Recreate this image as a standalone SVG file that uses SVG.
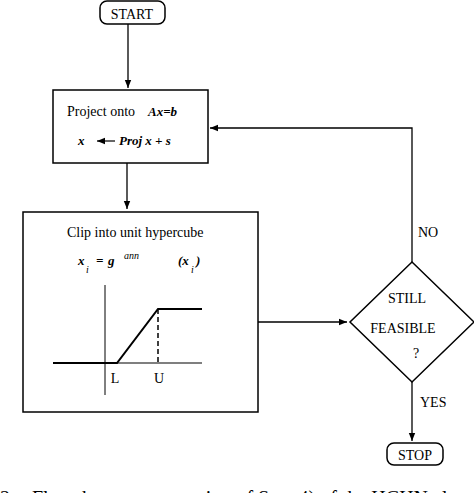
<svg xmlns="http://www.w3.org/2000/svg" width="474" height="493" viewBox="0 0 474 493">
<style>
  .ln{fill:none;stroke:#000;stroke-width:1.3}
  .bx{fill:#fff;stroke:#000;stroke-width:1.5}
  .t{font-family:"Liberation Serif","Times New Roman",serif;font-size:14px;fill:#000}
  .cap{font-size:20px}
  .it{font-family:"Liberation Serif","Times New Roman",serif;font-style:italic;font-weight:bold;font-size:13px;fill:#000}
  .sub{font-family:"Liberation Serif","Times New Roman",serif;font-style:italic;font-size:10px;fill:#000}
</style>
<defs>
  <marker id="ah" viewBox="0 0 10 10" refX="10" refY="5" markerWidth="8" markerHeight="8" markerUnits="userSpaceOnUse" orient="auto">
    <path d="M0,1 L10,5 L0,9 Z" fill="#000"/>
  </marker>
</defs>
<g id="connectors">
  <line class="ln" x1="128" y1="24" x2="128" y2="88" marker-end="url(#ah)"/>
  <line class="ln" x1="127" y1="163" x2="127" y2="209" marker-end="url(#ah)"/>
  <line class="ln" x1="258" y1="322" x2="347" y2="322" marker-end="url(#ah)"/>
  <polyline class="ln" points="412,262 412,128 210,128" marker-end="url(#ah)"/>
  <line class="ln" x1="412" y1="382" x2="412" y2="441" marker-end="url(#ah)"/>
  <text class="t" x="418" y="237">NO</text>
  <text class="t" x="420" y="407">YES</text>
</g>
<g id="start">
  <rect class="bx" x="100" y="1" width="65" height="23" rx="7"/>
  <text class="t" x="132" y="19" text-anchor="middle">START</text>
</g>
<g id="project">
  <rect class="bx" x="53" y="90" width="155" height="73"/>
  <text class="t" x="67" y="116">Project onto</text>
  <text class="it" x="148" y="116">Ax=b</text>
  <text class="it" x="78" y="145">x</text>
  <line x1="115" y1="141" x2="97" y2="141" stroke="#000" stroke-width="1.2" marker-end="url(#ah)"/>
  <text class="it" x="119" y="145">Proj x + s</text>
</g>
<g id="clip">
  <rect class="bx" x="23" y="212" width="235" height="200"/>
  <text class="t" x="67" y="237">Clip into unit hypercube</text>
  <text class="it" x="78" y="265">x</text>
  <text class="sub" x="86" y="273">i</text>
  <text class="it" x="96" y="265">=</text>
  <text class="it" x="108" y="265">g</text>
  <text class="sub" x="124" y="259">ann</text>
  <text class="it" x="178" y="265">(x</text>
  <text class="sub" x="191" y="273">i</text>
  <text class="it" x="196" y="265">)</text>
  <line x1="105" y1="285" x2="105" y2="395" stroke="#000" stroke-width="1"/>
  <line x1="53" y1="363" x2="202" y2="363" stroke="#000" stroke-width="1.2"/>
  <polyline points="53,363 117,363 158,309 202,309" fill="none" stroke="#000" stroke-width="2"/>
  <line x1="158" y1="309" x2="158" y2="363" stroke="#000" stroke-width="1.5" stroke-dasharray="5,3"/>
  <text class="t" x="115" y="383" text-anchor="middle">L</text>
  <text class="t" x="159" y="383" text-anchor="middle">U</text>
</g>
<g id="decision">
  <polygon class="bx" points="412,262 474,322 412,382 350,322"/>
  <text class="t" x="407" y="303" text-anchor="middle">STILL</text>
  <text class="t" x="403" y="333" text-anchor="middle">FEASIBLE</text>
  <text class="t" x="416" y="358" text-anchor="middle">?</text>
</g>
<g id="stop">
  <rect class="bx" x="387" y="443" width="56" height="22" rx="7"/>
  <text class="t" x="415" y="460" text-anchor="middle">STOP</text>
</g>
<g id="caption">
  <text class="t cap" x="0" y="505">2.</text>
  <text class="t cap" x="32" y="505">Flowchart representation of Step 4) of the HCHN algorithm</text>
</g>
</svg>
